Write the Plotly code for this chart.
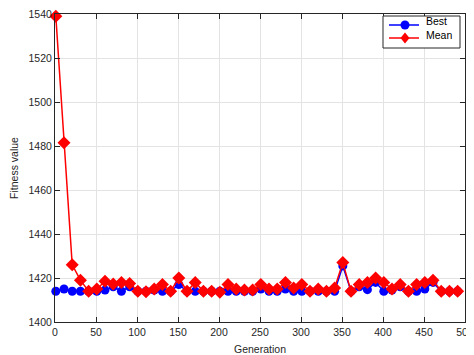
import plotly.graph_objects as go

generation = list(range(1, 500, 10))
best = [1414, 1415, 1414, 1414, 1414, 1414, 1414.5, 1416, 1414, 1416,
        1414, 1414, 1414.5, 1414, 1414, 1417, 1414, 1414, 1414, 1414,
        1414, 1414, 1414, 1414, 1414, 1415, 1414, 1414, 1415, 1414,
        1414, 1414, 1414, 1414, 1414, 1425.5, 1414, 1416, 1414.7, 1418,
        1414, 1414.5, 1416, 1414, 1414, 1415, 1418, 1414, 1414, 1414]
mean = [1539, 1481.5, 1426, 1419, 1414, 1415, 1418.5, 1417.3, 1418, 1417.5,
        1414, 1413.7, 1415, 1417, 1414, 1420, 1414, 1418, 1414, 1414,
        1413.5, 1417, 1415, 1414.5, 1414.5, 1417, 1415, 1415, 1418, 1415.5,
        1417, 1414, 1415, 1414, 1415.5, 1427, 1414, 1417, 1418, 1420,
        1418, 1415, 1417, 1414, 1417, 1418, 1419, 1414, 1414, 1414]
series_names = ["Best", "Mean"]
series_colors = ["#0000ff", "#ff0000"]

W, H = 466, 347
OFF = 8                      # page body margin
ML, MR, MT, MB = 47, 9, 6, 33
PL = OFF + ML                # plot area left (page px)
PT = OFF + MT                # plot area top (page px)
PW = W - ML - MR
PH = H - MT - MB


def px(x):
    return (x - PL) / PW


def py(y):
    return 1 - (y - PT) / PH


fig = go.Figure()
fig.add_trace(go.Scatter(
    x=generation, y=best, name=series_names[0], mode="lines+markers",
    line=dict(color=series_colors[0], width=1.5),
    marker=dict(symbol="circle", size=9, color=series_colors[0]),
    cliponaxis=False, showlegend=False))
fig.add_trace(go.Scatter(
    x=generation, y=mean, name=series_names[1], mode="lines+markers",
    line=dict(color=series_colors[1], width=1.5),
    marker=dict(symbol="diamond", size=10, color=series_colors[1]),
    cliponaxis=False, showlegend=False))

axis_common = dict(
    showgrid=True, gridcolor="#e3e3e3", gridwidth=1,
    showline=True, linecolor="#262626", linewidth=1, mirror="ticks",
    ticks="inside", ticklen=5, tickcolor="#262626",
    tickfont=dict(family="Liberation Sans, Arial", size=10.5, color="#262626"),
    ticklabeloverflow="allow", automargin=False,
    zeroline=False,
)

# compact MATLAB-style legend, positioned relative to the plot's top-right corner
R = PL + PW
box_l, box_r, box_t, box_b = R - 82, R - 5, PT + 2, PT + 34
shapes = [dict(type="rect", xref="paper", yref="paper",
               x0=px(box_l), x1=px(box_r), y0=py(box_b), y1=py(box_t),
               line=dict(color="#262626", width=1), fillcolor="white",
               layer="above")]
annotations = []
row_y = [box_t + 9, box_t + 22]
text_y = [box_t + 5.5, box_t + 19.5]
for i, nm in enumerate(series_names):
    shapes.append(dict(type="line", xref="paper", yref="paper",
                       x0=px(box_l + 6), x1=px(box_l + 36),
                       y0=py(row_y[i]), y1=py(row_y[i]),
                       line=dict(color=series_colors[i], width=1.5), layer="above"))
    if i == 0:
        shapes.append(dict(type="circle", xref="paper", yref="paper",
                           xsizemode="pixel", ysizemode="pixel",
                           xanchor=px(box_l + 22), yanchor=py(row_y[i]),
                           x0=-4.5, x1=4.5, y0=-4.5, y1=4.5,
                           fillcolor=series_colors[i],
                           line=dict(color=series_colors[i], width=0), layer="above"))
    else:
        shapes.append(dict(type="path", xref="paper", yref="paper",
                           xsizemode="pixel", ysizemode="pixel",
                           xanchor=px(box_l + 22), yanchor=py(row_y[i]),
                           path="M 0,5.5 L 4.5,0 L 0,-5.5 L -4.5,0 Z",
                           fillcolor=series_colors[i],
                           line=dict(color=series_colors[i], width=0), layer="above"))
    annotations.append(dict(text=nm, xref="paper", yref="paper",
                            x=px(box_l + 41), y=py(text_y[i]), xanchor="left",
                            yanchor="middle", showarrow=False,
                            font=dict(family="Liberation Sans, Arial",
                                      size=10.5, color="#000000")))

fig.update_layout(
    width=W, height=H,
    margin=dict(l=ML, r=MR, t=MT, b=MB),
    paper_bgcolor="white", plot_bgcolor="white",
    font=dict(family="Liberation Sans, Arial", size=10.5, color="#262626"),
    xaxis=dict(range=[0, 500], tickvals=list(range(0, 501, 50)),
               title=dict(text="Generation", standoff=9,
                          font=dict(size=10.5, color="#262626")),
               **axis_common),
    yaxis=dict(range=[1400, 1540], tickvals=list(range(1400, 1541, 20)),
               title=dict(text="Fitness value", standoff=10,
                          font=dict(size=10.5, color="#262626")),
               **axis_common),
    shapes=shapes,
    annotations=annotations,
    showlegend=False,
)

fig.write_html("out.html")
